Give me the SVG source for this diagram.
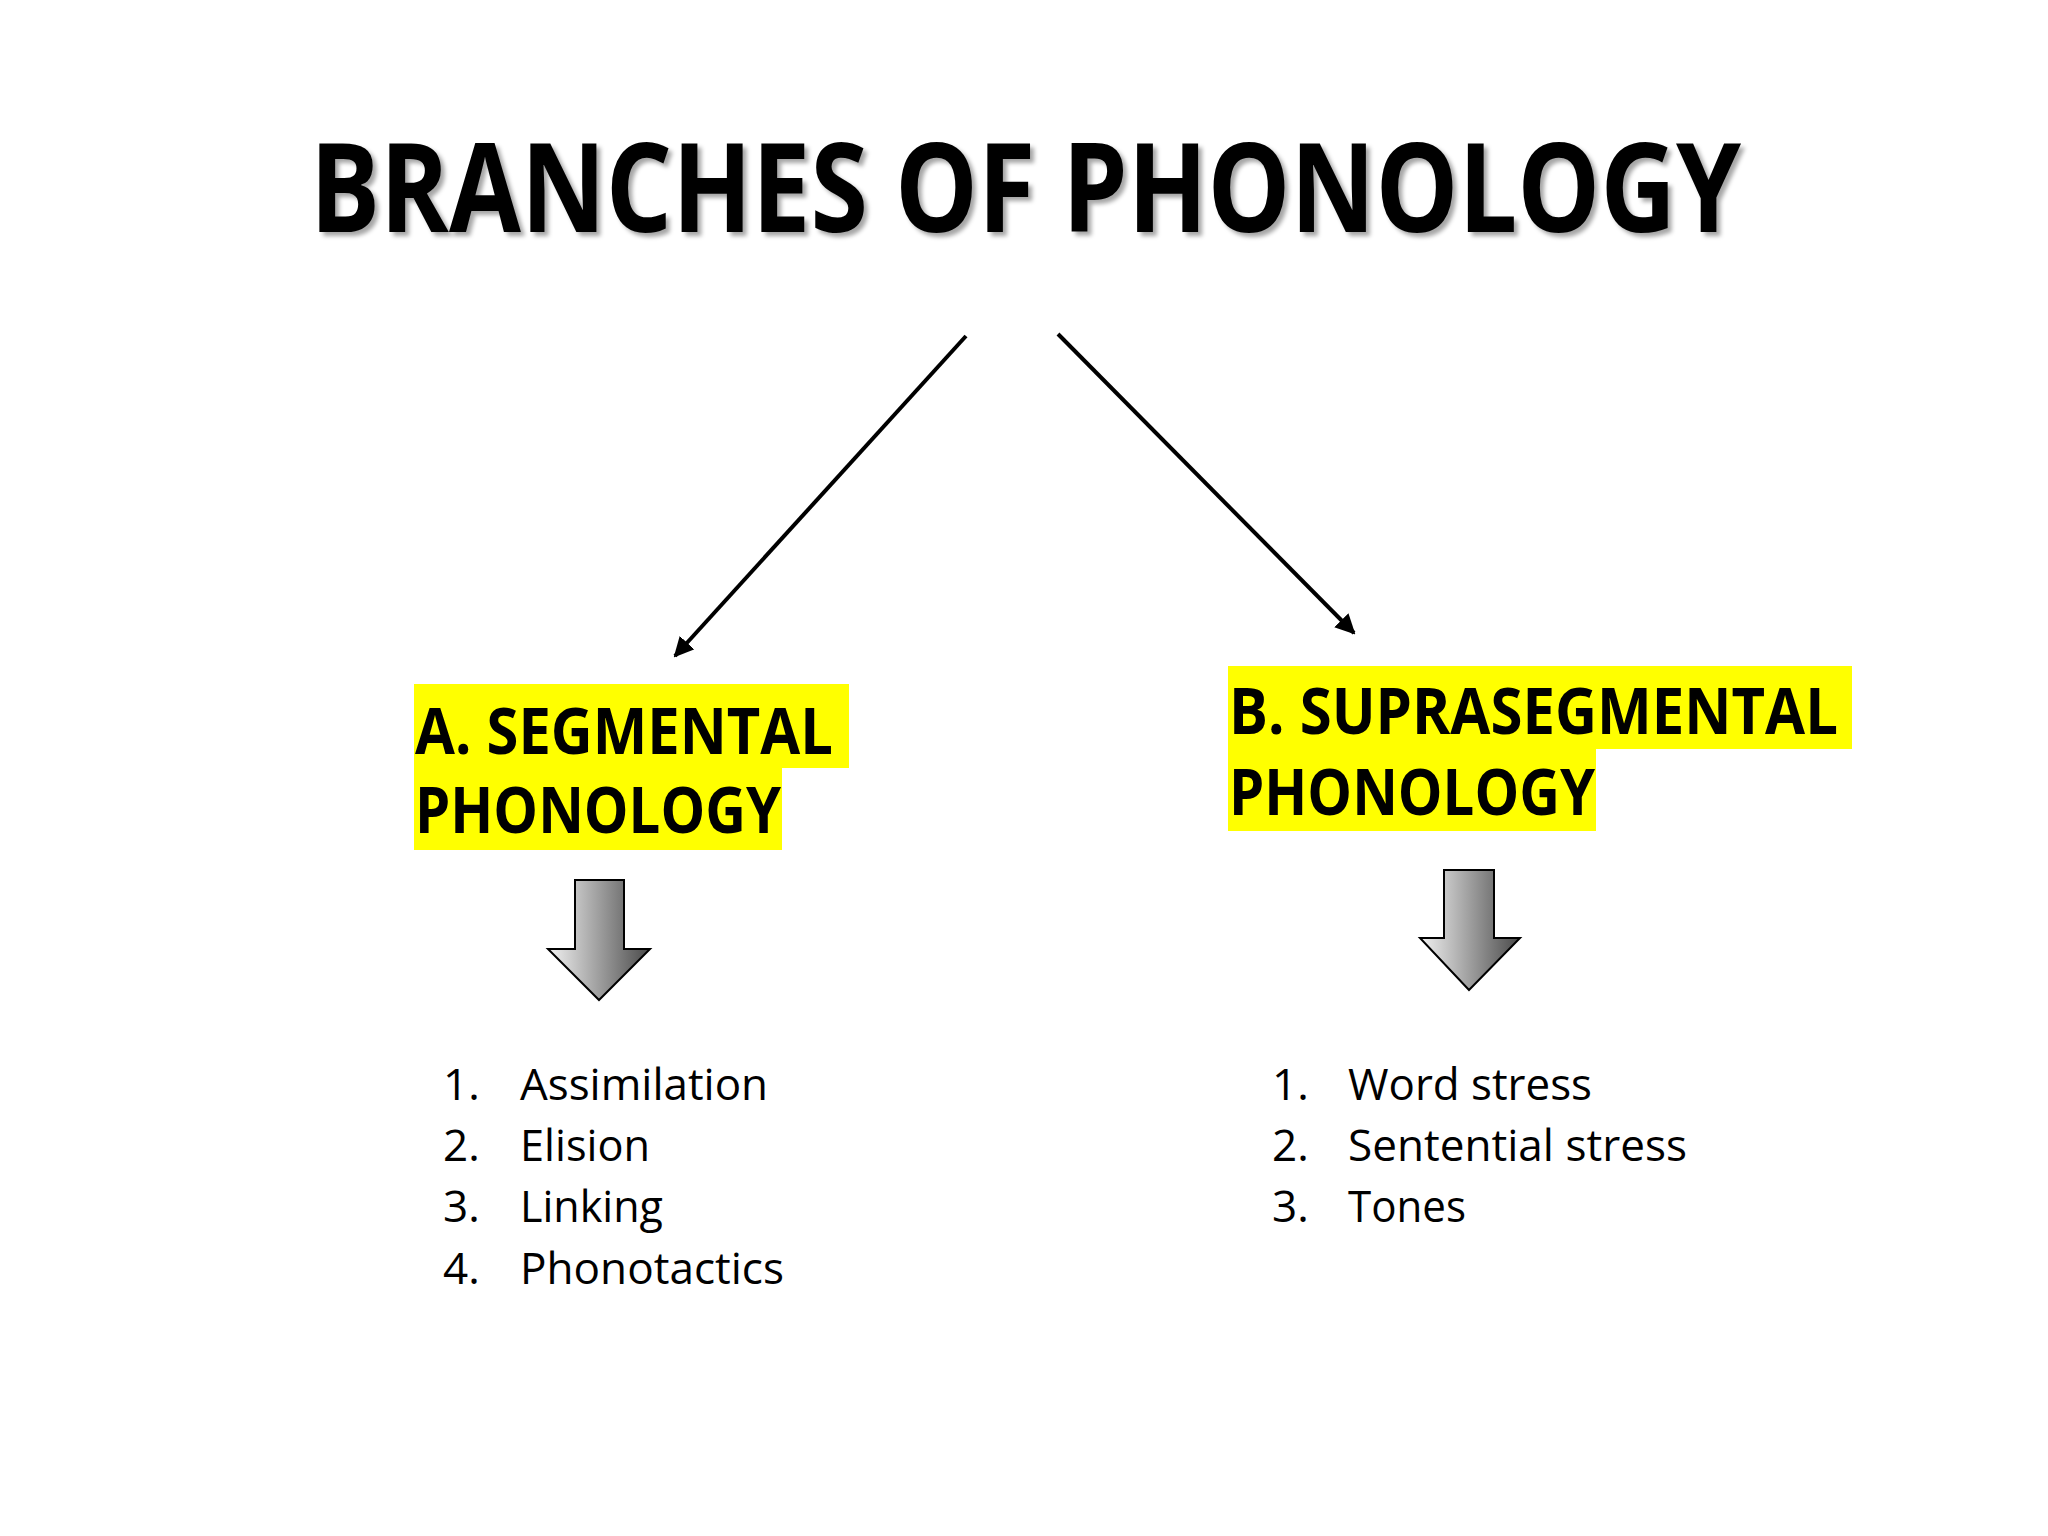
<svg xmlns="http://www.w3.org/2000/svg" width="2048" height="1536" viewBox="0 0 2048 1536">
<style>
.t{font-family:"Open Sans","Liberation Sans",sans-serif;font-weight:bold;fill:#000}
.l{font-family:"Open Sans","Liberation Sans",sans-serif;font-size:44px;fill:#000}
.hl{fill:#ffff00}
.ba{fill:url(#g);stroke:#000;stroke-width:2}
</style>
<defs>
<linearGradient id="g" x1="0" y1="0" x2="1" y2="0"><stop offset="0" stop-color="#f2f2f2"/><stop offset="1" stop-color="#4a4a4a"/></linearGradient>
<marker id="ah" viewBox="0 0 10 10" refX="9" refY="5" markerWidth="5" markerHeight="5" orient="auto"><path d="M0,0L10,5L0,10z" fill="#000"/></marker>
<filter id="sh"><feDropShadow dx="4" dy="4" stdDeviation="2" flood-color="#000" flood-opacity="0.35"/></filter>
</defs>
<rect width="2048" height="1536" fill="#fff"/>
<g id="title"><text class="t" x="310" y="232" font-size="124" textLength="1431" lengthAdjust="spacingAndGlyphs" filter="url(#sh)">BRANCHES OF PHONOLOGY</text></g>
<g id="connectors" stroke="#000" stroke-width="4" fill="none">
<line x1="966" y1="336" x2="675" y2="656" marker-end="url(#ah)"/>
<line x1="1058" y1="334" x2="1354" y2="633" marker-end="url(#ah)"/>
</g>
<g id="nodeA">
<rect class="hl" x="414" y="684" width="435" height="84"/>
<rect class="hl" x="414" y="767" width="368" height="83"/>
<text class="t" x="415" y="754" font-size="64" textLength="418" lengthAdjust="spacingAndGlyphs">A. SEGMENTAL</text>
<text class="t" x="415" y="833" font-size="64" textLength="366" lengthAdjust="spacingAndGlyphs">PHONOLOGY</text>
</g>
<g id="nodeB">
<rect class="hl" x="1228" y="666" width="624" height="83"/>
<rect class="hl" x="1228" y="748" width="368" height="83"/>
<text class="t" x="1229" y="734" font-size="64" textLength="609" lengthAdjust="spacingAndGlyphs">B. SUPRASEGMENTAL</text>
<text class="t" x="1229" y="815" font-size="64" textLength="366" lengthAdjust="spacingAndGlyphs">PHONOLOGY</text>
</g>
<g id="arrowA"><path class="ba" d="M575,880H624V949H650L599,1000L548,949H575Z"/></g>
<g id="arrowB"><path class="ba" d="M1444,870H1494V938H1520L1469,990L1420,938H1444Z"/></g>
<g id="listA" class="l">
<text class="l" x="443" y="1100">1.</text><text class="l" x="520" y="1100" textLength="248" lengthAdjust="spacingAndGlyphs">Assimilation</text>
<text class="l" x="443" y="1161">2.</text><text class="l" x="520" y="1161" textLength="130" lengthAdjust="spacingAndGlyphs">Elision</text>
<text class="l" x="443" y="1222">3.</text><text class="l" x="520" y="1222" textLength="143" lengthAdjust="spacingAndGlyphs">Linking</text>
<text class="l" x="443" y="1284">4.</text><text class="l" x="520" y="1284" textLength="264" lengthAdjust="spacingAndGlyphs">Phonotactics</text>
</g>
<g id="listB">
<text class="l" x="1272" y="1100">1.</text><text class="l" x="1348" y="1100" textLength="244" lengthAdjust="spacingAndGlyphs">Word stress</text>
<text class="l" x="1272" y="1161">2.</text><text class="l" x="1348" y="1161" textLength="339" lengthAdjust="spacingAndGlyphs">Sentential stress</text>
<text class="l" x="1272" y="1222">3.</text><text class="l" x="1348" y="1222" textLength="118" lengthAdjust="spacingAndGlyphs">Tones</text>
</g>
</svg>
